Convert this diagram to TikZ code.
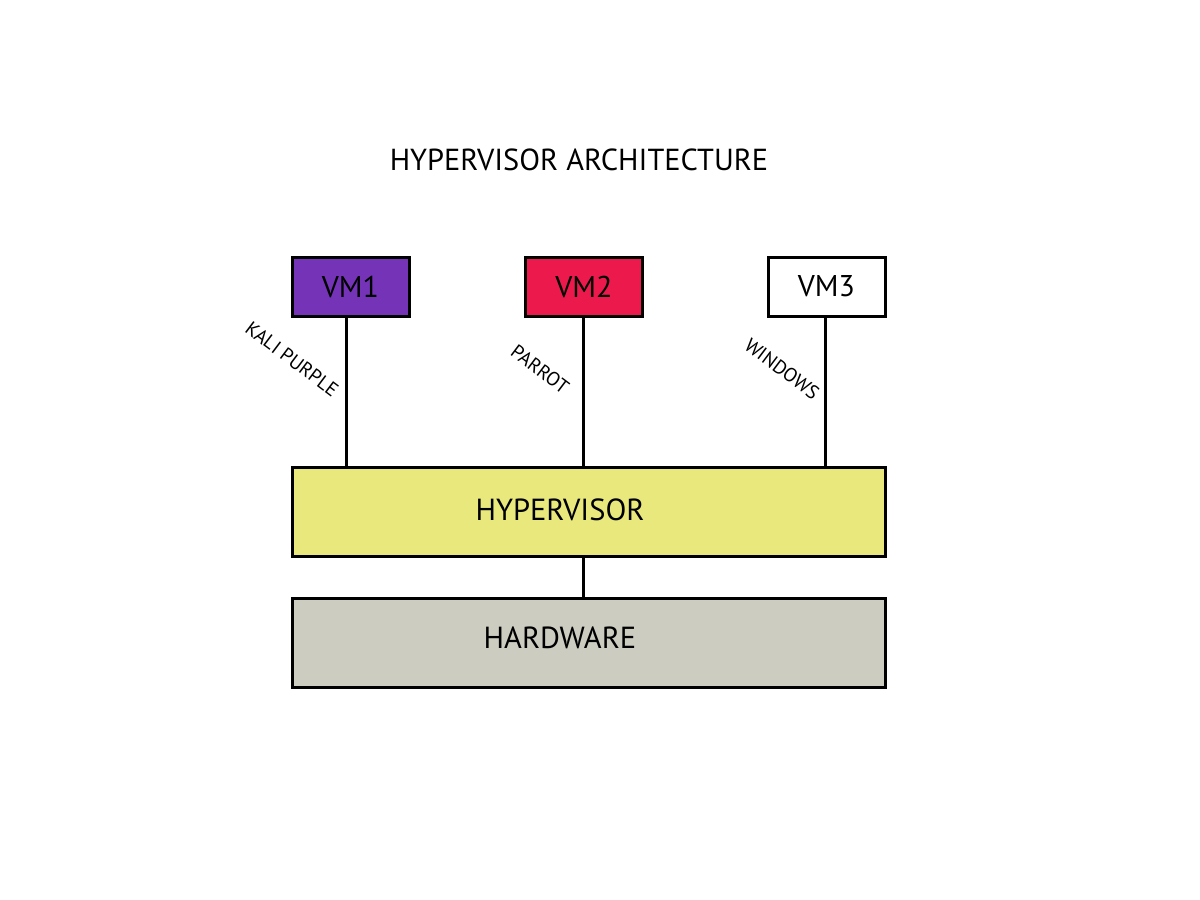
\documentclass[tikz,border=0pt]{standalone}
\usepackage{fontspec}
\setmainfont{PT Sans}
\definecolor{vmpurple}{HTML}{7533B8}
\definecolor{vmred}{HTML}{EC1A4C}
\definecolor{hypyellow}{HTML}{E8E87C}
\definecolor{hwgray}{HTML}{CCCCC0}
\begin{document}
\begin{tikzpicture}[x=1pt,y=-1pt,
  box/.style={draw=black,line width=3pt,minimum width=#1,inner sep=0pt},
  vmbox/.style={box=117pt,minimum height=59pt,font=\fontsize{30}{30}\selectfont},
  layer/.style={box=593pt,minimum height=89pt},
  conn/.style={line width=3pt},
  layertext/.style={font=\fontsize{30.5}{30.5}\selectfont},
  oslabel/.style={rotate=-37,font=\fontsize{19.5}{19.5}\selectfont,inner sep=0pt}]
\useasboundingbox (0,0) rectangle (1200,900);
\node[font=\fontsize{30.4}{30.4}\selectfont] (title) at (579,160) {HYPERVISOR ARCHITECTURE};
\node[vmbox,fill=vmpurple] (vm1) at (350.5,286.5) {VM1};
\node[vmbox,fill=vmred] (vm2) at (584,286.5) {VM2};
\node[vmbox,fill=white] (vm3) at (826.5,286.5) {VM3};
\node[layer,fill=hypyellow] (hyp) at (588.5,511.5) {};
\node[layer,fill=hwgray] (hw) at (588.5,643) {};
\node[layertext] (hyptext) at (560,510) {HYPERVISOR};
\node[layertext] (hwtext) at (560,638) {HARDWARE};
\coordinate (h1) at (346,467);
\coordinate (h2) at (583,467);
\coordinate (h3) at (825,467);
\draw[conn] (vm1.south -| h1) -- (h1);
\draw[conn] (vm2.south -| h2) -- (h2);
\draw[conn] (vm3.south -| h3) -- (h3);
\draw[conn] (hyp.south -| h2) -- (hw.north -| h2);
\node[oslabel] (kali) at (292,359) {KALI PURPLE};
\node[oslabel] (parrot) at (540,369) {PARROT};
\node[oslabel] (win) at (782,369) {WINDOWS};
\end{tikzpicture}
\end{document}
